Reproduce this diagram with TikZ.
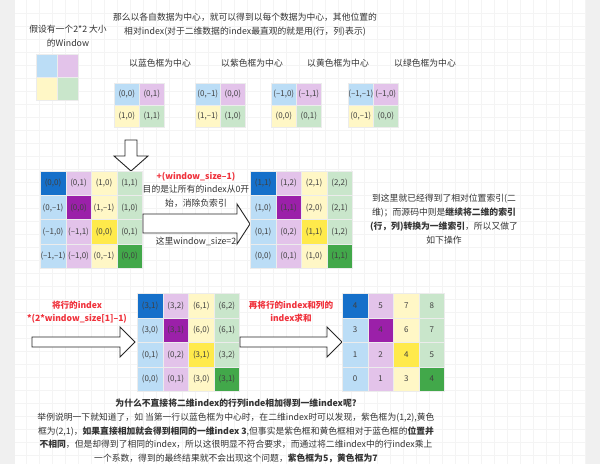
\documentclass[tikz,border=0pt]{standalone}
\usepackage{fontspec}
\setmainfont{Noto Sans CJK SC}
\definecolor{lA0}{HTML}{BBDDF6}\definecolor{lA1}{HTML}{E3C3EA}
\definecolor{lA2}{HTML}{FFF7C6}\definecolor{lA3}{HTML}{C9E6CB}
\definecolor{dA0}{HTML}{1670CA}\definecolor{dA1}{HTML}{9B20A9}
\definecolor{dA2}{HTML}{FFEA4B}\definecolor{dA3}{HTML}{42A84A}
\definecolor{redtxt}{HTML}{F0323C}
\tikzset{
  cell/.style={draw=gray!15, line width=0.6pt, text=black!75, inner sep=0pt,
    font=\fontsize{8}{9}\selectfont},
  note/.style={align=center, text=black!80, font=\fontsize{8.8}{13.8}\selectfont},
  rednote/.style={note, text=redtxt, font=\fontsize{8.6}{13}\selectfont\bfseries},
  bigarrow/.style={draw=black!85, line width=0.9pt, fill=white}
}
% 4x4 grid: x, y, cell w, cell h, name, labels (colour by column, dark diagonal)
\newcommand\bigcells[6]{%
  \foreach \lab [count=\k from 0] in {#6} {%
    \pgfmathtruncatemacro\r{\k/4}\pgfmathtruncatemacro\c{mod(\k,4)}%
    \ifnum\r=\c\def\cc{dA\c}\else\def\cc{lA\c}\fi
    \node[cell, fill=\cc, minimum width=#3, minimum height=#4, anchor=north west]
      (#5-\r-\c) at ({#1+\c*#3},{#2+\r*#4}) {\lab};
  }}
% 2x2 grid: colour by cell
\newcommand\smallcells[6]{%
  \foreach \lab [count=\k from 0] in {#6} {%
    \pgfmathtruncatemacro\r{\k/2}\pgfmathtruncatemacro\c{mod(\k,2)}%
    \node[cell, fill=lA\k, minimum width=#3, minimum height=#4, anchor=north west]
      (#5-\r-\c) at ({#1+\c*#3},{#2+\r*#4}) {\lab};
  }}
\begin{document}
\begin{tikzpicture}[x=1pt, y=-1pt]
  \useasboundingbox (0,0) rectangle (600,464);
  \fill[white] (0,0) rectangle (600,464);
  \begin{scope}[gray!9, line width=0.4pt]
    \foreach \gx in {13,26,...,598} \draw (\gx,0) -- (\gx,464);
    \foreach \gy in {13,26,...,462} \draw (0,\gy) -- (600,\gy);
  \end{scope}
  \fill[gray!12] (0,0) rectangle (15,464);
  \fill[gray!12] (586,0) rectangle (600,464);

  % top part
  \node[note] (wintxt) at (68,36) {假设有一个2*2 大小\\的Window};
  \smallcells{36}{54}{21}{23}{win}{{},{},{},{}}
  \node[note] (toptxt) at (245,25) {那么以各自数据为中心，就可以得到以每个数据为中心，其他位置的\\相对index(对于二维数据的index最直观的就是用(行，列)表示)};
  \node[note] (lblA) at (160,63) {以蓝色框为中心};
  \node[note] (lblB) at (252,63) {以紫色框为中心};
  \node[note] (lblC) at (338,63) {以黄色框为中心};
  \node[note] (lblD) at (425,63) {以绿色框为中心};
  \smallcells{114}{83}{25}{22}{sa}{{(0,0)},{(0,1)},{(1,0)},{(1,1)}}
  \smallcells{195}{83}{25}{22}{sb}{{(0,–1)},{(0,0)},{(1,–1)},{(1,0)}}
  \smallcells{271}{83}{25}{22}{sc}{{(–1,0)},{(–1,1)},{(0,0)},{(0,1)}}
  \smallcells{348}{83}{25}{22}{sd}{{(–1,–1)},{(–1,0)},{(0,–1)},{(0,0)}}

  % down arrow
  \draw[bigarrow] (125,140) -- (137,140) -- (137,156) -- (148,156) -- (131,171)
    -- (114,156) -- (125,156) -- cycle;

  % middle part
  \bigcells{40}{171}{25.5}{24.2}{ga}{{(0,0)},{(0,1)},{(1,0)},{(1,1)},
    {(0,–1)},{(0,0)},{(1,–1)},{(1,0)},
    {(–1,0)},{(–1,1)},{(0,0)},{(0,1)},
    {(–1,–1)},{(–1,0)},{(0,–1)},{(0,0)}}
  \draw[bigarrow] (143,214) -- (237,214) -- (237,204) -- (250,224) -- (237,244)
    -- (237,233) -- (143,233) -- cycle;
  \node[rednote] (plus) at (196,177) {+(window\_size–1)};
  \node[note] (why) at (196,196) {目的是让所有的index从0开\\始，消除负索引};
  \node[note] (wsz) at (196,241) {这里window\_size=2};
  \bigcells{250}{171}{25.5}{24.2}{gb}{{(1,1)},{(1,2)},{(2,1)},{(2,2)},
    {(1,0)},{(1,1)},{(2,0)},{(2,1)},
    {(0,1)},{(0,2)},{(1,1)},{(1,2)},
    {(0,0)},{(0,1)},{(1,0)},{(1,1)}}
  \node[note] (rtxt) at (444,219) {到这里就已经得到了相对位置索引(二\\维)；而源码中则是\textbf{继续将二维的索引}\\\textbf{(行，列)转换为一维索引}，所以又做了\\如下操作};

  % bottom part
  \draw[bigarrow] (32,337) -- (120,337) -- (120,327) -- (135,342) -- (120,357)
    -- (120,347) -- (32,347) -- cycle;
  \node[rednote] (mul) at (77,312) {将行的index\\*(2*window\_size[1]–1)};
  \bigcells{137}{293}{25.6}{24.5}{gc}{{(3,1)},{(3,2)},{(6,1)},{(6,2)},
    {(3,0)},{(3,1)},{(6,0)},{(6,1)},
    {(0,1)},{(0,2)},{(3,1)},{(3,2)},
    {(0,0)},{(0,1)},{(3,0)},{(3,1)}}
  \draw[bigarrow] (240,337) -- (327,337) -- (327,327) -- (342,342) -- (327,357)
    -- (327,347) -- (240,347) -- cycle;
  \node[rednote] (sum) at (291,312) {再将行的index和列的\\index求和};
  \bigcells{342}{293}{25.6}{24.5}{gd}{4,5,7,8,3,4,6,7,1,2,4,5,0,1,3,4}
  \node[note] (btxt) at (236,431) {\textbf{为什么不直接将二维index的行列inde相加得到一维index呢?}\\
    举例说明一下就知道了，如 当第一行以蓝色框为中心时，在二维index时可以发现，紫色框为(1,2),黄色\\
    框为(2,1)，\textbf{如果直接相加就会得到相同的一维index 3},但事实是紫色框和黄色框相对于蓝色框的\textbf{位置并}\\
    \textbf{不相同}，但是却得到了相同的index，所以这很明显不符合要求，而通过将二维index中的行index乘上\\
    一个系数，得到的最终结果就不会出现这个问题，\textbf{紫色框为5，黄色框为7}};
\end{tikzpicture}
\end{document}
